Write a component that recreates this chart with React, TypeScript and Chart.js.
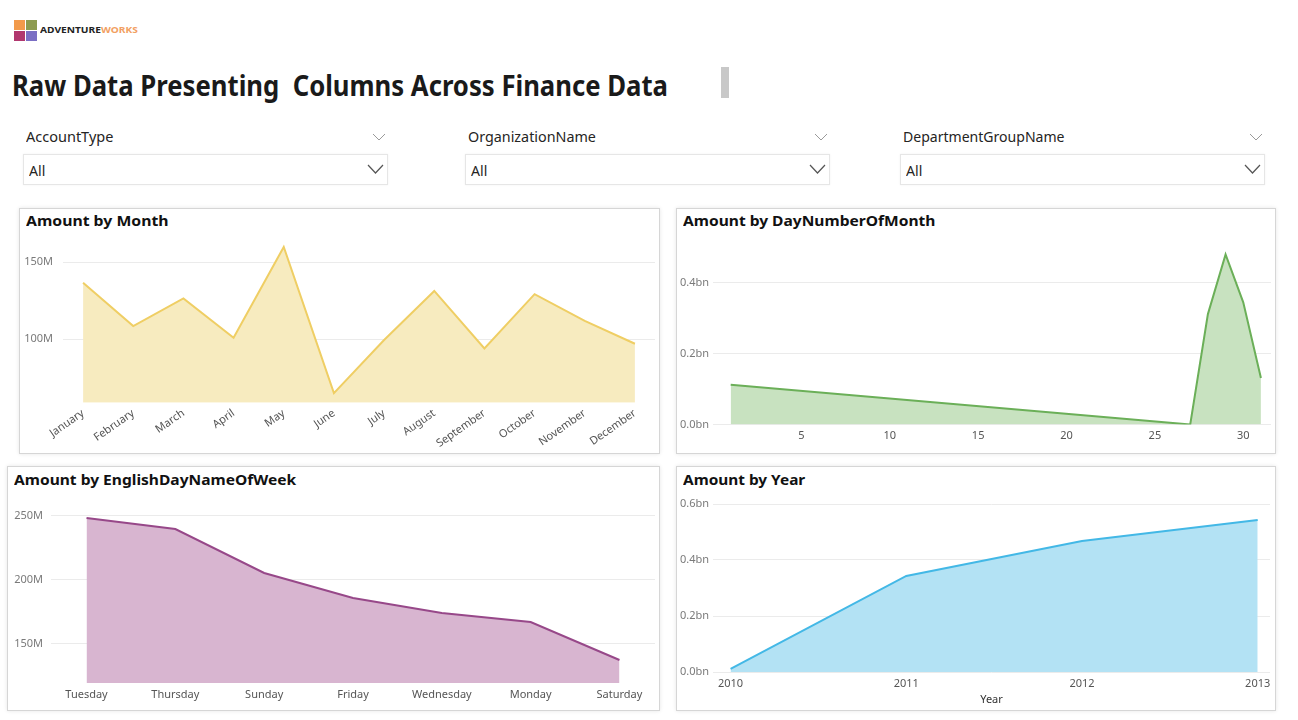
import React, { useEffect, useLayoutEffect, useRef, useState } from "react";
import { Chart, registerables } from "chart.js";

Chart.register(...registerables);

// ---------------- DATA ----------------
const monthLabels = ["January", "February", "March", "April", "May", "June", "July", "August", "September", "October", "November", "December"];
const monthValues = [136.8, 108.6, 126.6, 101.0, 160.0, 65.0, 99.5, 131.4, 94.0, 129.3, 112.0, 97.1]; // millions
const monthYTicks = [100, 150];

const dayNumbers = [1, 27, 28, 29, 30, 31];
const dayValues = [0.112, 0.0, 0.311, 0.479, 0.344, 0.131]; // billions
const dayYTicks = [0, 0.2, 0.4];
const dayXTicks = [5, 10, 15, 20, 25, 30];

const weekdayLabels = ["Tuesday", "Thursday", "Sunday", "Friday", "Wednesday", "Monday", "Saturday"];
const weekdayValues = [248.4, 239.8, 205.5, 186.0, 174.2, 167.2, 137.5]; // millions
const weekdayYTicks = [150, 200, 250];

const years = [2010, 2011, 2012, 2013];
const yearValues = [0.011, 0.343, 0.468, 0.543]; // billions
const yearYTicks = [0, 0.2, 0.4, 0.6];

const slicerNames = ["AccountType", "OrganizationName", "DepartmentGroupName"];

// ---------------- STYLE ----------------
const FONT = "'Segoe UI', 'Noto Sans', 'Open Sans', sans-serif";

function FitText({ text, x, baseline, size, width, bold, color, children }: any) {
  const ref = useRef<HTMLSpanElement>(null);
  const [k, setK] = useState(1);
  useLayoutEffect(() => {
    const measure = () => {
      const el = ref.current;
      if (!el) return;
      const w = el.offsetWidth;
      if (w > 0) setK(width / w);
    };
    measure();
    if ((document as any).fonts && (document as any).fonts.ready) {
      (document as any).fonts.ready.then(measure);
    }
  }, [width]);
  const L = Math.round(size * 1.4);
  const top = baseline - L / 2 - 0.388 * size;
  return (
    <span
      ref={ref}
      style={{
        position: "absolute",
        left: x,
        top,
        height: L,
        lineHeight: `${L}px`,
        fontSize: size,
        fontFamily: FONT,
        fontWeight: bold ? 700 : 400,
        color: color || "#252423",
        whiteSpace: "pre",
        transform: `scaleX(${k})`,
        transformOrigin: "0 0",
      }}
    >
      {children || text}
    </span>
  );
}

function Chevron({ x, y, w, h, color, sw }: any) {
  return (
    <svg style={{ position: "absolute", left: x, top: y }} width={w + 2} height={h + 2}>
      <polyline points={`1,1 ${w / 2 + 1},${h + 1} ${w + 1},1`} fill="none" stroke={color} strokeWidth={sw} />
    </svg>
  );
}

function Panel({ x, y, w, h }: any) {
  return (
    <div
      style={{
        position: "absolute",
        left: x,
        top: y,
        width: w,
        height: h,
        boxSizing: "border-box",
        border: "1px solid #d6d6d6",
        boxShadow: "0 0 4px rgba(0,0,0,0.10)",
        background: "#fff",
      }}
    />
  );
}

type AreaOpts = {
  points: { x: number; y: number }[];
  line: string;
  fill: string;
  xMin: number;
  xMax: number;
  xTicks: number[];
  xLabel: (v: number) => string;
  yMin: number;
  yMax: number;
  yTicks: number[];
  yLabel: (v: number) => string;
  yWidth: number;
  xHeight: number;
  padTop: number;
  padRight: number;
  rotation?: number;
  xPad?: number;
  yPad?: number;
  xTitle?: string;
};

function makeConfig(o: AreaOpts): any {
  return {
    type: "line",
    data: {
      datasets: [
        {
          data: o.points,
          borderColor: o.line,
          backgroundColor: o.fill,
          borderWidth: 2,
          fill: "start",
          pointRadius: 0,
          tension: 0,
        },
      ],
    },
    options: {
      animation: false,
      responsive: false,
      maintainAspectRatio: false,
      devicePixelRatio: 1,
      layout: { padding: { top: o.padTop, right: o.padRight, left: 0, bottom: 0 } },
      plugins: { legend: { display: false }, tooltip: { enabled: false } },
      scales: {
        x: {
          type: "linear",
          min: o.xMin,
          max: o.xMax,
          grid: { display: false, drawTicks: false },
          border: { display: false },
          afterBuildTicks: (s: any) => {
            s.ticks = o.xTicks.map((v) => ({ value: v }));
          },
          afterFit: (s: any) => {
            s.height = o.xHeight;
            s.paddingLeft = 0;
            s.paddingRight = 0;
            s.paddingTop = 0;
            s.paddingBottom = 0;
          },
          ticks: {
            autoSkip: false,
            minRotation: o.rotation || 0,
            maxRotation: o.rotation || 0,
            padding: o.xPad ?? 5,
            color: "#555",
            font: { family: FONT, size: 11 },
            callback: (v: any) => o.xLabel(Number(v)),
          },
          title: o.xTitle
            ? { display: true, text: o.xTitle, color: "#333", font: { family: FONT, size: 11 }, padding: { top: 0, bottom: 1.5 } }
            : { display: false },
        },
        y: {
          type: "linear",
          min: o.yMin,
          max: o.yMax,
          grid: { color: "#ebebeb", lineWidth: 1, drawTicks: false },
          border: { display: false },
          afterBuildTicks: (s: any) => {
            s.ticks = o.yTicks.map((v) => ({ value: v }));
          },
          afterFit: (s: any) => {
            s.width = o.yWidth;
            s.paddingLeft = 0;
            s.paddingRight = 0;
            s.paddingTop = 0;
            s.paddingBottom = 0;
          },
          ticks: {
            padding: o.yPad ?? 6,
            color: "#7a7a7a",
            font: { family: FONT, size: 11 },
            callback: (v: any) => o.yLabel(Number(v)),
          },
        },
      },
    },
  };
}

function AreaChart({ x, y, w, h, opts }: { x: number; y: number; w: number; h: number; opts: AreaOpts }) {
  const ref = useRef<HTMLCanvasElement>(null);
  useEffect(() => {
    const c = new Chart(ref.current as HTMLCanvasElement, makeConfig(opts));
    return () => c.destroy();
  }, []);
  return (
    <div style={{ position: "absolute", left: x, top: y, width: w, height: h }}>
      <canvas ref={ref} width={w} height={h} style={{ width: w, height: h, display: "block" }} />
    </div>
  );
}

const fmtM = (v: number) => `${v}M`;
const fmtBn = (v: number) => `${v.toFixed(1)}bn`;

export default function App() {
  const slicerX = [23, 465, 900];
  const slicerLabelW = [87, 128, 162];
  return (
    <div
      style={{
        position: "absolute",
        left: 0,
        top: 0,
        width: 1298,
        height: 720,
        background: "#ffffff",
        overflow: "hidden",
        fontFamily: FONT,
      }}
    >
      {/* Logo */}
      <div style={{ position: "absolute", left: 14, top: 20, width: 11, height: 10, background: "#F29A4B" }} />
      <div style={{ position: "absolute", left: 26, top: 20, width: 11, height: 10, background: "#8D9B50" }} />
      <div style={{ position: "absolute", left: 14, top: 31, width: 11, height: 10, background: "#B1376E" }} />
      <div style={{ position: "absolute", left: 26, top: 31, width: 11, height: 10, background: "#7A6EC4" }} />
      <FitText x={40} baseline={33} size={8} width={98} bold>
        <span style={{ color: "#222" }}>ADVENTURE</span>
        <span style={{ color: "#F2A062" }}>WORKS</span>
      </FitText>

      {/* Title */}
      <FitText text={"Raw Data Presenting  Columns Across Finance Data"} x={12} baseline={96} size={28} width={656} bold color="#1a1a1a" />
      <div style={{ position: "absolute", left: 721, top: 67, width: 8, height: 31, background: "#c8c8c8" }} />

      {/* Slicers */}
      {slicerNames.map((name, i) => (
        <React.Fragment key={name}>
          <FitText text={name} x={slicerX[i] + 3} baseline={142.5} size={15} width={slicerLabelW[i]} color="#252423" />
          <Chevron x={slicerX[i] + 349} y={133} w={12} h={6} color="#9a9a9a" sw={1} />
          <div
            style={{
              position: "absolute",
              left: slicerX[i],
              top: 154,
              width: 365,
              height: 31,
              boxSizing: "border-box",
              border: "1px solid #e6e6e6",
              boxShadow: "0 0 2px rgba(0,0,0,0.06)",
            }}
          />
          <FitText text="All" x={slicerX[i] + 6} baseline={176} size={15} width={16} color="#252423" />
          <Chevron x={slicerX[i] + 344} y={164} w={15} h={8} color="#555" sw={1.2} />
        </React.Fragment>
      ))}

      {/* Panels */}
      <Panel x={19} y={208} w={641} h={246} />
      <Panel x={676} y={208} w={600} h={246} />
      <Panel x={7} y={466} w={653} h={245} />
      <Panel x={676} y={466} w={600} h={245} />

      <FitText text="Amount by Month" x={26} baseline={226} size={15} width={142} bold color="#111" />
      <FitText text="Amount by DayNumberOfMonth" x={683} baseline={226} size={15} width={252} bold color="#111" />
      <FitText text="Amount by EnglishDayNameOfWeek" x={14} baseline={485} size={15} width={282} bold color="#111" />
      <FitText text="Amount by Year" x={683} baseline={485} size={15} width={122} bold color="#111" />

      <AreaChart
        x={20}
        y={232}
        w={637}
        h={218}
        opts={{
          points: monthValues.map((v, i) => ({ x: i, y: v })),
          line: "#EFCE64",
          fill: "#F7EBBF",
          xMin: -0.4,
          xMax: 11.4,
          xTicks: monthLabels.map((_, i) => i),
          xLabel: (v) => monthLabels[Math.round(v)] || "",
          yMin: 58.8,
          yMax: 165.8,
          yTicks: monthYTicks,
          yLabel: fmtM,
          yWidth: 43,
          xHeight: 47.3,
          padTop: 6,
          padRight: 2,
          rotation: 35,
          xPad: 4,
          yPad: 10,
        }}
      />

      <AreaChart
        x={678}
        y={240}
        w={595}
        h={208}
        opts={{
          points: dayNumbers.map((d, i) => ({ x: d, y: dayValues[i] })),
          line: "#6BAF58",
          fill: "#C8E2C0",
          xMin: 0,
          xMax: 31.57,
          xTicks: dayXTicks,
          xLabel: (v) => String(v),
          yMin: 0,
          yMax: 0.5,
          yTicks: dayYTicks,
          yLabel: fmtBn,
          yWidth: 35,
          xHeight: 23.5,
          padTop: 7,
          padRight: 2,
          xPad: 5,
          yPad: 4,
        }}
      />

      <AreaChart
        x={9}
        y={494}
        w={648}
        h={212}
        opts={{
          points: weekdayValues.map((v, i) => ({ x: i, y: v })),
          line: "#974889",
          fill: "#D8B5D0",
          xMin: -0.4,
          xMax: 6.4,
          xTicks: weekdayLabels.map((_, i) => i),
          xLabel: (v) => weekdayLabels[Math.round(v)] || "",
          yMin: 119.5,
          yMax: 262.5,
          yTicks: weekdayYTicks,
          yLabel: fmtM,
          yWidth: 42,
          xHeight: 23,
          padTop: 6,
          padRight: 2,
          xPad: 5,
          yPad: 8,
        }}
      />

      <AreaChart
        x={678}
        y={496}
        w={595}
        h={212}
        opts={{
          points: years.map((yv, i) => ({ x: yv, y: yearValues[i] })),
          line: "#43B8E6",
          fill: "#B3E2F4",
          xMin: 2009.9,
          xMax: 2013.07,
          xTicks: years,
          xLabel: (v) => String(v),
          yMin: 0,
          yMax: 0.6,
          yTicks: yearYTicks,
          yLabel: fmtBn,
          yWidth: 35,
          xHeight: 36,
          padTop: 8,
          padRight: 3,
          xPad: 5,
          yPad: 4,
          xTitle: "Year",
        }}
      />
    </div>
  );
}
